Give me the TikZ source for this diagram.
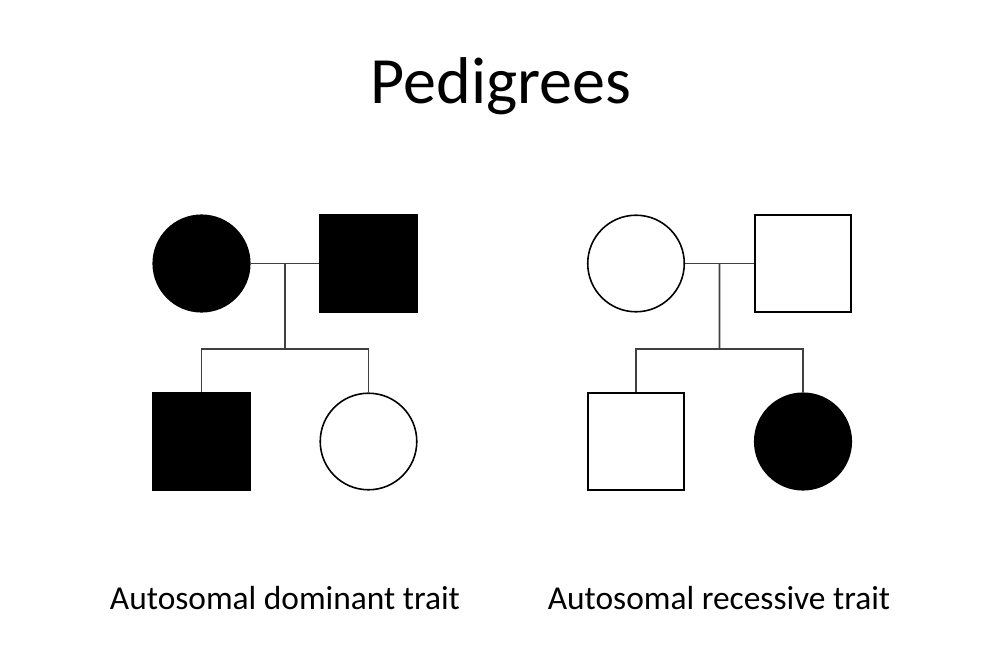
\documentclass[tikz,border=0pt]{standalone}
\usepackage{fontspec}
\setmainfont{Carlito}
\usetikzlibrary{positioning, calc}

\tikzset{
  female/.style={circle, draw=black, line width=0.45pt, minimum size=0.965cm, inner sep=0pt},
  male/.style={rectangle, draw=black, line width=0.45pt, minimum size=0.965cm, inner sep=0pt},
  affected/.style={fill=black},
  unaffected/.style={fill=white},
  link/.style={draw=black!75, line width=0.5pt}
}

\begin{document}
\begin{tikzpicture}[x=0.01cm, y=-0.01cm]
                \useasboundingbox (0,0) rectangle (1000,667);
                \node[font=\fontsize{18.8}{22}\selectfont, anchor=base] (title) at (501,104) {Pedigrees};
                % Dominant
                \node[female, affected] (dmother) at (201.5,263.5) {};
                \node[male, affected] (dfather) at (368.5,263.5) {};
                \node[male, affected] (dson) at (201.5,441.5) {};
                \node[female, unaffected] (ddaughter) at (368.5,441.5) {};
                \coordinate (dmate) at ($(dmother.east)!0.5!(dfather.west)$);
                \coordinate (dsib) at (285,349);
                \draw[link] (dmother.east) -- (dfather.west);
                \draw[link] (dmate) -- (dsib);
                \draw[link] (dson.north) |- (dsib) -| (ddaughter.north);
                \node[font=\fontsize{9.5}{12}\selectfont, anchor=base] (dlabel) at (285,609) {Autosomal dominant trait};
                % Recessive
                \node[female, unaffected] (rmother) at (636,263.5) {};
                \node[male, unaffected] (rfather) at (803,263.5) {};
                \node[male, unaffected] (rson) at (636,441.5) {};
                \node[female, affected] (rdaughter) at (803,441.5) {};
                \coordinate (rmate) at ($(rmother.east)!0.5!(rfather.west)$);
                \coordinate (rsib) at (719.5,349);
                \draw[link] (rmother.east) -- (rfather.west);
                \draw[link] (rmate) -- (rsib);
                \draw[link] (rson.north) |- (rsib) -| (rdaughter.north);
                \node[font=\fontsize{9.5}{12}\selectfont, anchor=base] (rlabel) at (719,609) {Autosomal recessive trait};
            \end{tikzpicture}
\end{document}
